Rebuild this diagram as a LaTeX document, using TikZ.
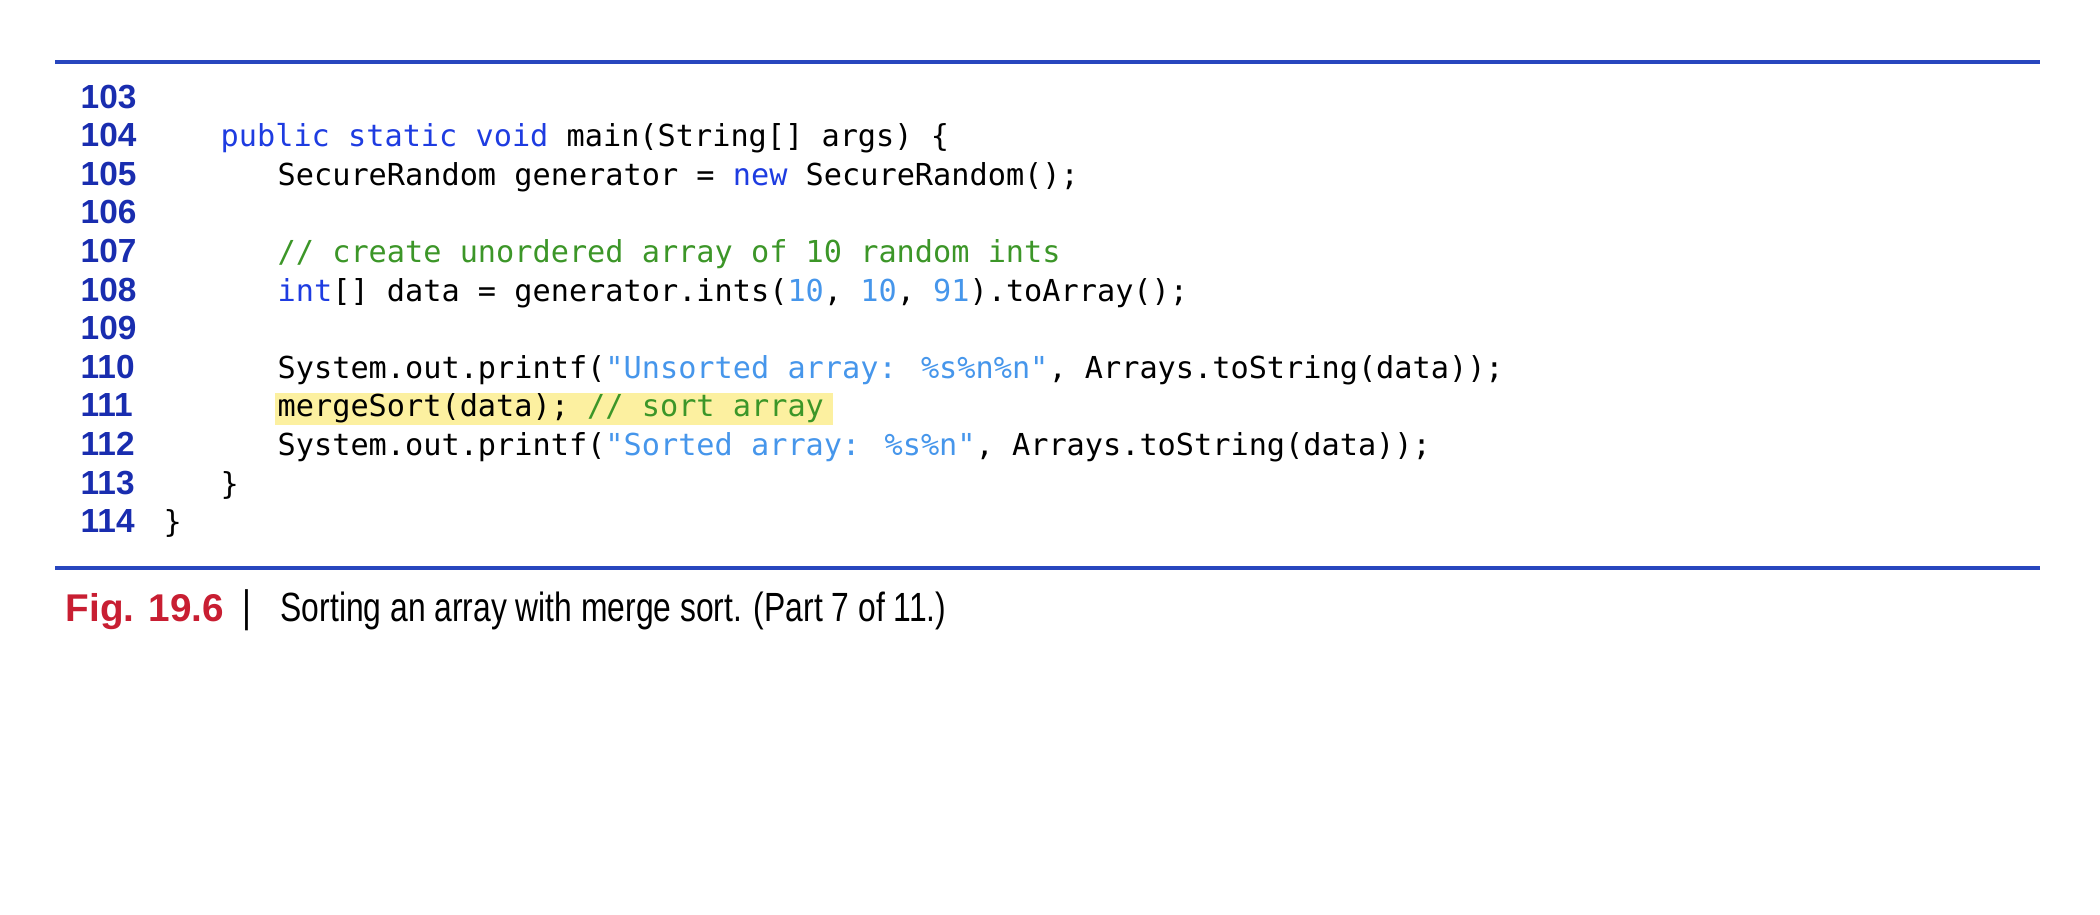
\documentclass[tikz,border=0pt]{standalone}
\usepackage{fontspec}
\newfontfamily\code{DejaVu Sans Mono}
\newfontfamily\lnum{Liberation Sans}
\newfontfamily\capfont[FakeStretch=0.78]{Liberation Sans}
\definecolor{rule}{RGB}{40,70,190}
\definecolor{lnc}{RGB}{25,45,175}
\definecolor{kw}{RGB}{30,60,225}
\definecolor{str}{RGB}{70,150,235}
\definecolor{cmt}{RGB}{60,150,40}
\definecolor{hl}{RGB}{252,240,160}
\definecolor{figred}{RGB}{200,30,50}
\newcommand{\K}[1]{\textcolor{kw}{#1}}
\newcommand{\Sx}[1]{\textcolor{str}{#1}}
\newcommand{\Cm}[1]{\textcolor{cmt}{#1}}
\begin{document}
\begin{tikzpicture}[x=0.01cm,y=-0.01cm,
  ln/.style={anchor=base west,inner sep=0,font=\lnum\bfseries\fontsize{9.5pt}{10pt}\selectfont,text=lnc},
  cl/.style={anchor=base west,inner sep=0,font=\code\fontsize{8.6pt}{10pt}\selectfont}]
\useasboundingbox (0,0) rectangle (2100,914);
\draw[rule,line width=1.3pt] (55,62) -- (2040,62);
\draw[rule,line width=1.3pt] (55,568) -- (2040,568);
\fill[hl] (275,393) rectangle (833,425);
\foreach \n [count=\i from 0] in {103,...,114}
  \node[ln] (n\n) at (80,{108+\i*38.6}) {\n};
\node[cl] (c104) at (220,146.6) {\K{public static void} main(String[] args) \{};
\node[cl] (c105) at (277,185.2) {SecureRandom generator = \K{new} SecureRandom();};
\node[cl] (c107) at (277,262.4) {\Cm{// create unordered array of 10 random ints}};
\node[cl] (c108) at (277,301) {\K{int}[] data = generator.ints(\Sx{10}, \Sx{10}, \Sx{91}).toArray();};
\node[cl] (c110) at (277,378.2) {System.out.printf(\Sx{"Unsorted array: \%s\%n\%n"}, Arrays.toString(data));};
\node[cl] (c111) at (277,416.8) {mergeSort(data); \Cm{// sort array}};
\node[cl] (c112) at (277,455.4) {System.out.printf(\Sx{"Sorted array: \%s\%n"}, Arrays.toString(data));};
\node[cl] (c113) at (220,494) {\}};
\node[cl] (c114) at (163,532.6) {\}};
\node[anchor=base west,inner sep=0,text=figred,font=\lnum\bfseries\fontsize{11pt}{12pt}\selectfont] (fig) at (65,621) {Fig. 19.6};
\node[anchor=base west,inner sep=0,font=\capfont\fontsize{12.5pt}{14pt}\selectfont] (bar) at (242,621) {|};
\node[anchor=base west,inner sep=0,font=\capfont\fontsize{11.6pt}{14pt}\selectfont] (cap) at (280,621) {Sorting an array with merge sort. (Part 7 of 11.)};
\end{tikzpicture}
\end{document}
